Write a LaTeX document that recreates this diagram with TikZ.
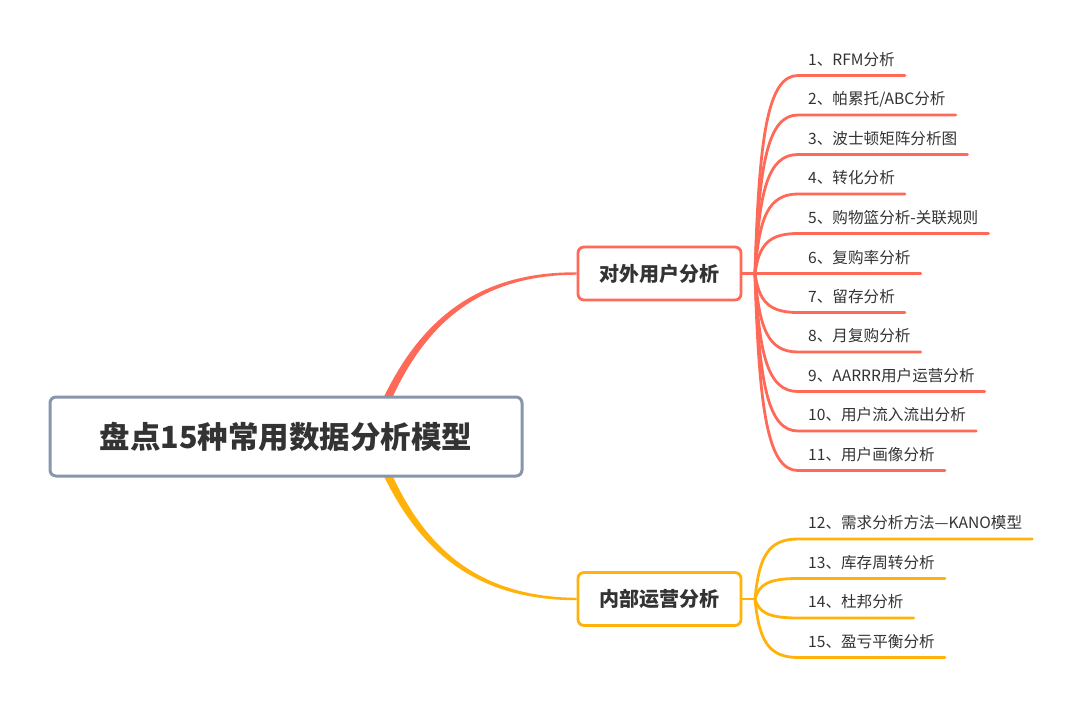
\documentclass[tikz,border=0pt]{standalone}
\usepackage{fontspec}
\setmainfont{Noto Sans CJK SC}
\usetikzlibrary{calc}
\pgfdeclarelayer{base}
\pgfdeclarelayer{bg}
\pgfsetlayers{base,bg,main}
\definecolor{coral}{HTML}{FF6A58}
\definecolor{amber}{HTML}{FFB30A}
\definecolor{rootline}{HTML}{8896AB}
\definecolor{txt}{HTML}{333333}
\tikzset{
  rootbox/.style={draw=rootline, line width=3pt, rounded corners=6pt, fill=white,
    minimum width=472pt, minimum height=79pt, inner sep=0pt, text=txt,
    font=\bfseries\fontsize{30.5}{36}\selectfont},
  branchbox/.style={line width=2.8pt, rounded corners=6pt, fill=white,
    minimum width=163pt, minimum height=53pt, inner sep=0pt, text=txt,
    font=\bfseries\fontsize{20}{24}\selectfont},
  leaf/.style={anchor=south west, inner xsep=10pt, inner ysep=7pt,
    text height=13pt, text depth=3pt, text=txt,
    font=\fontsize{15.6}{19}\selectfont},
  wire/.style={line width=2.8pt, line cap=round},
}
\begin{document}
\begin{tikzpicture}[x=1pt,y=-1pt]
\useasboundingbox (0,0) rectangle (1080,707);
\begin{pgfonlayer}{base}
\fill[white] (0,0) rectangle (1080,707);
\end{pgfonlayer}

% main nodes
\node[rootbox] (root) at (286,436.5) {盘点15种常用数据分析模型};
\node[branchbox, draw=coral] (b1) at (659.5,273.5) {对外用户分析};
\node[branchbox, draw=amber] (b2) at (659.5,599) {内部运营分析};
\coordinate (rs) at (372,436.5);
\coordinate (h1) at (755,273.5);
\coordinate (h2) at (755,599);

% leaves
\foreach \i/\y/\t in {
  1/75.5/{1、RFM分析},
  2/115/{2、帕累托/ABC分析},
  3/154.5/{3、波士顿矩阵分析图},
  4/194/{4、转化分析},
  5/233.5/{5、购物篮分析-关联规则},
  6/273.5/{6、复购率分析},
  7/312.5/{7、留存分析},
  8/352/{8、月复购分析},
  9/391.5/{9、AARRR用户运营分析},
  10/431/{10、用户流入流出分析},
  11/470.5/{11、用户画像分析}}{
  \node[leaf] (l\i) at (798,\y) {\t};
  \begin{pgfonlayer}{bg}
    \draw[wire, coral] (h1) .. controls (759,{\y+0.3*(273.5-\y)}) and (768,\y) .. (l\i.south west) -- (l\i.south east);
  \end{pgfonlayer}
}
\foreach \i/\y/\t in {
  12/539/{12、需求分析方法—KANO模型},
  13/578.5/{13、库存周转分析},
  14/618/{14、杜邦分析},
  15/657.5/{15、盈亏平衡分析}}{
  \node[leaf] (l\i) at (798,\y) {\t};
  \begin{pgfonlayer}{bg}
    \draw[wire, amber] (h2) .. controls (759,{\y+0.3*(599-\y)}) and (768,\y) .. (l\i.south west) -- (l\i.south east);
  \end{pgfonlayer}
}

\begin{pgfonlayer}{bg}
  \draw[wire, coral, line cap=butt] (b1.east) -- (h1);
  \draw[wire, amber, line cap=butt] (b2.east) -- (h2);
  % tapered root connectors
  \fill[coral] ([shift={(-4.2,-1.5)}]rs) .. controls (407.4,327.8) and (469.4,271.8) .. ([shift={(0,-1.2)}]b1.west)
     -- ([shift={(0,1.2)}]b1.west) .. controls (470.6,275.2) and (412.6,332.2) .. ([shift={(4.2,1.5)}]rs) -- cycle;
  \fill[amber] ([shift={(-4.2,1.5)}]rs) .. controls (407.4,545.2) and (469.4,600.2) .. ([shift={(0,1.2)}]b2.west)
     -- ([shift={(0,-1.2)}]b2.west) .. controls (470.6,596.8) and (412.6,540.8) .. ([shift={(4.2,-1.5)}]rs) -- cycle;
\end{pgfonlayer}
\end{tikzpicture}
\end{document}
